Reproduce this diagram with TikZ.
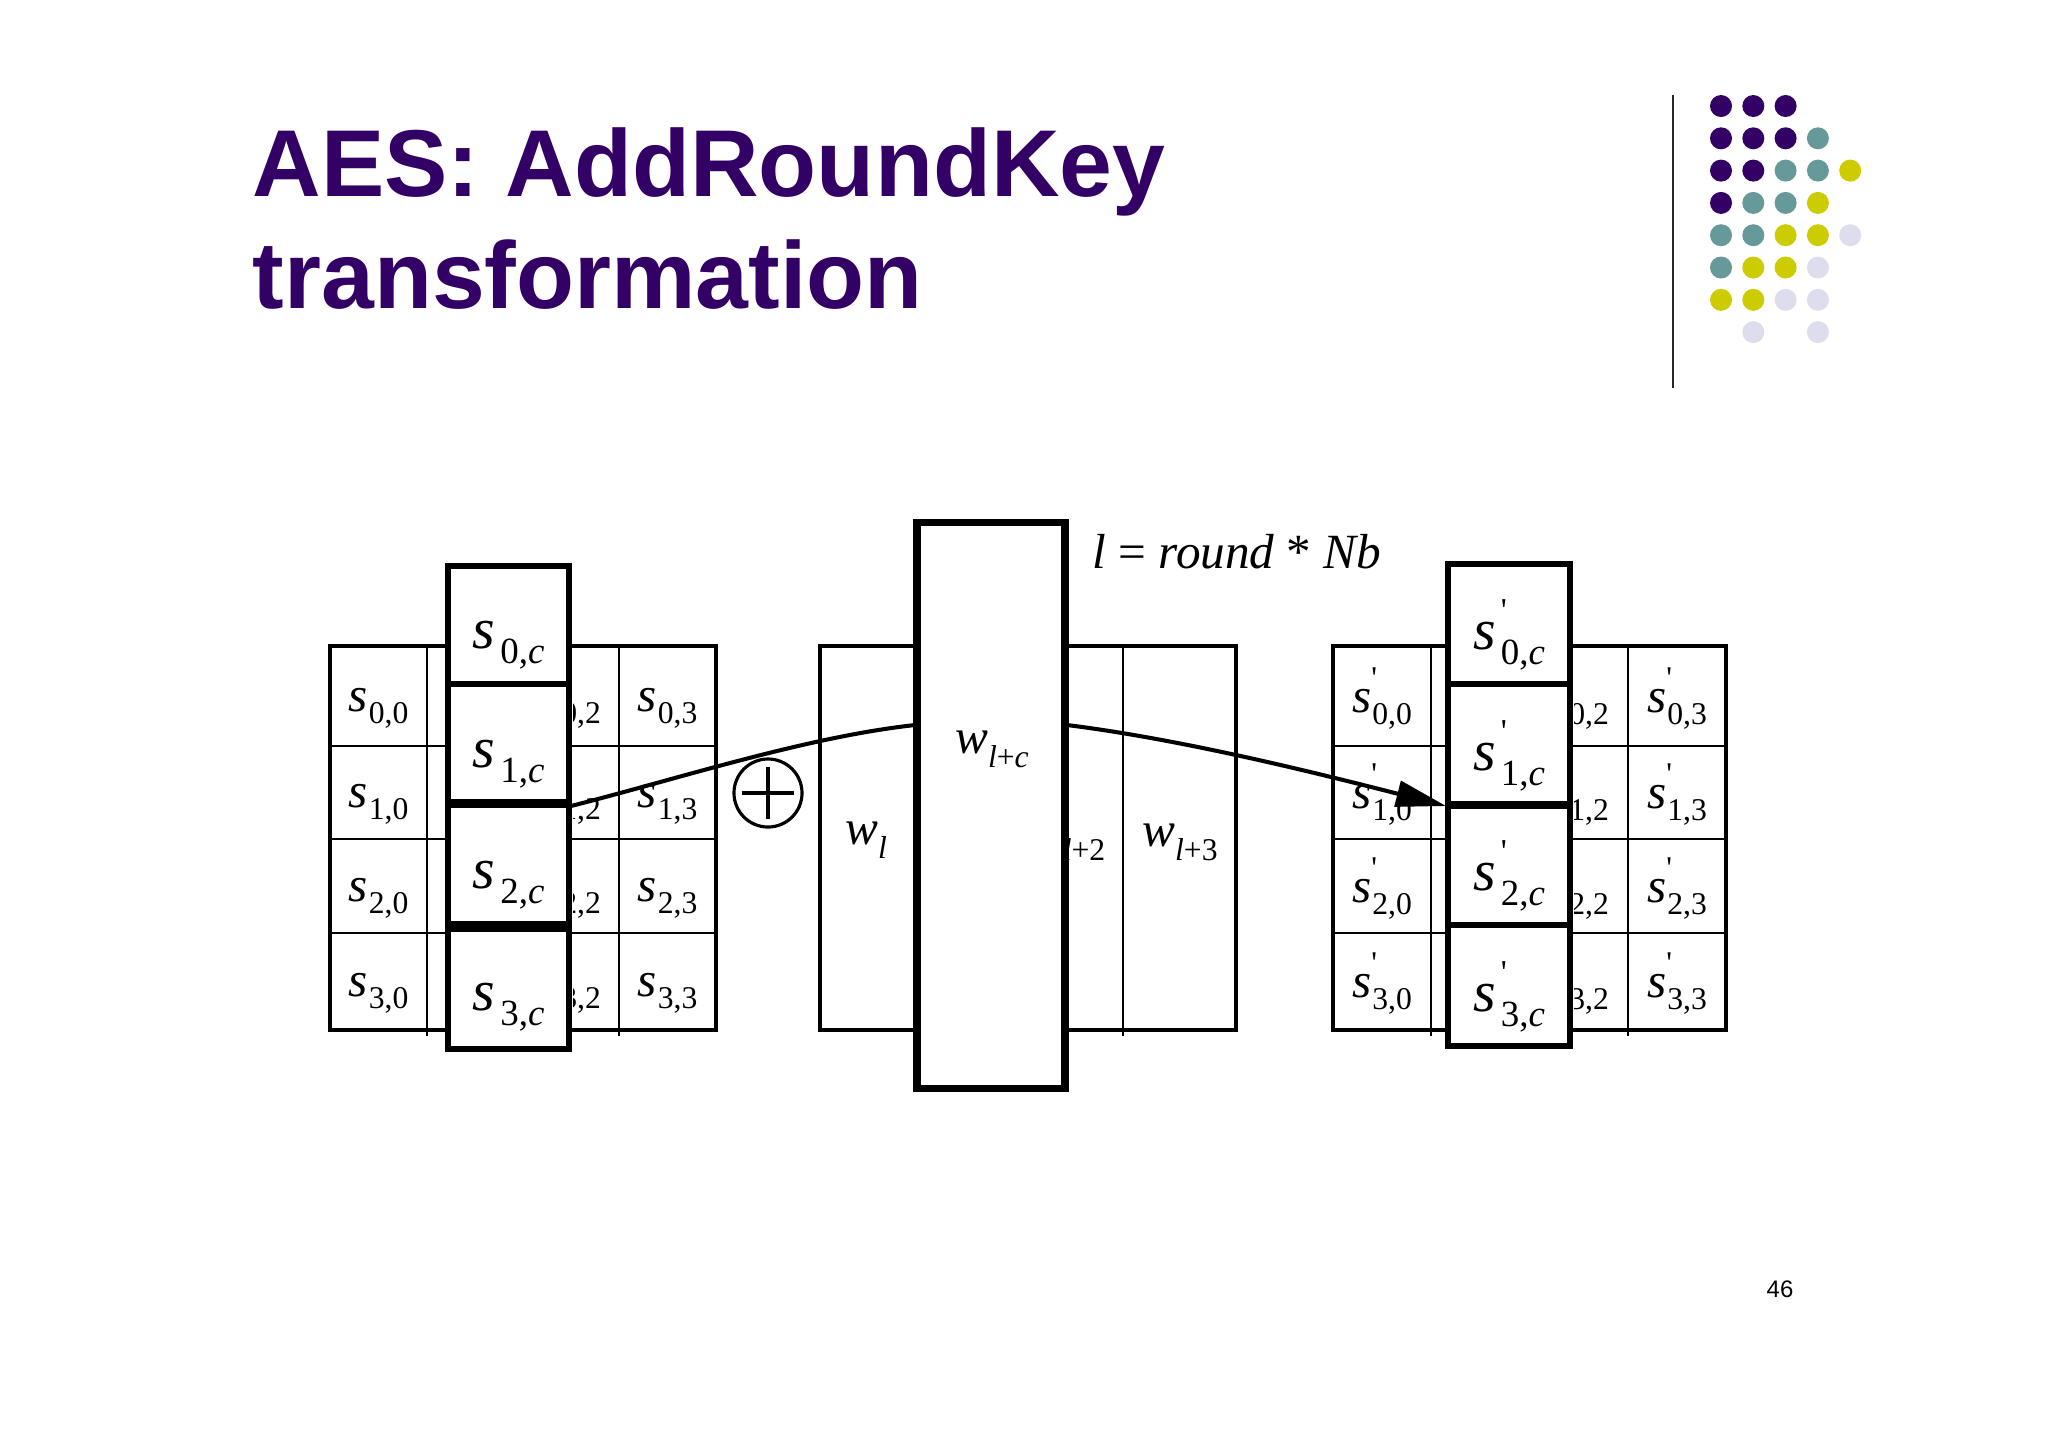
\documentclass[tikz,border=0pt]{standalone}
\usepackage{fontspec}
\setmainfont{Liberation Serif}
\newfontfamily\titlesans{Liberation Sans}
\usetikzlibrary{arrows.meta}
\definecolor{titlepurple}{RGB}{51,0,102}
\definecolor{dotteal}{RGB}{102,153,153}
\definecolor{dotyellow}{RGB}{204,204,0}
\definecolor{dotlav}{RGB}{221,221,238}
% grid cell labels
\newcommand\cellS[1]{{\fontsize{14pt}{14pt}\selectfont\itshape s}\kern0.3pt\raisebox{-3.5pt}{\fontsize{9pt}{9pt}\selectfont #1}}
\newcommand\cellSp[1]{{\fontsize{14pt}{14pt}\selectfont\itshape s}\rlap{\raisebox{6.8pt}{\fontsize{9pt}{9pt}\selectfont\textquotesingle}}\kern0.3pt\raisebox{-3.5pt}{\fontsize{9pt}{9pt}\selectfont #1}}
% highlighted column labels
\newcommand\colS[1]{{\fontsize{16.5pt}{16pt}\selectfont\itshape s}\kern1.5pt\raisebox{-4.5pt}{\fontsize{10.5pt}{10.5pt}\selectfont #1}}
\newcommand\colSp[1]{{\fontsize{16.5pt}{16pt}\selectfont\itshape s}\kern1.5pt\rlap{\raisebox{7.8pt}{\fontsize{9.5pt}{9.5pt}\selectfont\textquotesingle}}\raisebox{-4.5pt}{\fontsize{10.5pt}{10.5pt}\selectfont #1}}
\newcommand\wlab[1]{{\fontsize{14pt}{14pt}\selectfont\itshape w}\raisebox{-4pt}{\fontsize{9pt}{9pt}\selectfont #1}}
\begin{document}
\begin{tikzpicture}[x=0.01cm,y=-0.01cm]
\tikzset{
  gthin/.style={line width=0.8pt},
  gouter/.style={line width=1.4pt},
  colbox/.style={line width=1.7pt},
  lab/.style={anchor=base, inner sep=0pt},
  conn/.style={line width=1.15pt},
}
\useasboundingbox (0,0) rectangle (2048,1447);
\fill[white] (0,0) rectangle (2048,1447);

% title
\node[anchor=base west, inner sep=0pt, text=titlepurple, font=\titlesans\bfseries\fontsize{27pt}{32pt}\selectfont] (title1) at (252,196) {AES: AddRoundKey};
\node[anchor=base west, inner sep=0pt, text=titlepurple, font=\titlesans\bfseries\fontsize{27pt}{32pt}\selectfont] (title2) at (252,308) {transformation};

% decoration
\draw[line width=0.6pt, black!85] (1673,95) -- (1673,388);
\foreach \r/\c/\col in {0/0/titlepurple,0/1/titlepurple,0/2/titlepurple,
  1/0/titlepurple,1/1/titlepurple,1/2/titlepurple,1/3/dotteal,
  2/0/titlepurple,2/1/titlepurple,2/2/dotteal,2/3/dotteal,2/4/dotyellow,
  3/0/titlepurple,3/1/dotteal,3/2/dotteal,3/3/dotyellow,
  4/0/dotteal,4/1/dotteal,4/2/dotyellow,4/3/dotyellow,4/4/dotlav,
  5/0/dotteal,5/1/dotyellow,5/2/dotyellow,5/3/dotlav,
  6/0/dotyellow,6/1/dotyellow,6/2/dotlav,6/3/dotlav,
  7/1/dotlav,7/3/dotlav}
  \fill[\col] ({1721+32.3*\c},{106+32.3*\r}) circle[radius=11];

% page number
\node[font=\titlesans\fontsize{6.8pt}{8pt}\selectfont] (pnum) at (1780,1289) {46};

% ---------------- left state grid
\draw[gouter] (330,1030) -- (330,646) -- (716,646) -- (716,1030) -- cycle;
\foreach \y in {746,839,933} \draw[gthin] (330,\y) -- (716,\y);
\draw[gthin] (427,646) -- (427,1036);
\draw[gthin] (619,646) -- (619,1036);
\foreach \r/\yc in {0/696,1/792.5,2/886,3/981.5} {
  \node[lab] (L\r a) at (378.5,{\yc+15}) {\cellS{\r,0}};
  \node[lab] (L\r d) at (667.5,{\yc+15}) {\cellS{\r,3}};
}
\begin{scope}
  \clip (573,640) rectangle (618,1028);
  \foreach \r/\yc in {0/696,1/792.5,2/886,3/981.5}
    \node[lab] (L\r c) at (571,{\yc+15}) {\cellS{\r,2}};
\end{scope}
% highlighted column (left)
\fill[white] (448,566) rectangle (569,1048.5);
\draw[colbox] (448,566) rectangle (569,1048.5);
\draw[line width=1.7pt] (448,684) -- (569,684);
\draw[line width=2.5pt] (448,803.5) -- (569,803.5);
\draw[line width=3pt] (448,926.5) -- (569,926.5);
\node[lab] (LC0) at (508.5,648) {\colS{0,\textit{c}}};
\node[lab] (LC1) at (508.5,767) {\colS{1,\textit{c}}};
\node[lab] (LC2) at (508.5,888) {\colS{2,\textit{c}}};
\node[lab] (LC3) at (508.5,1010) {\colS{3,\textit{c}}};

% ---------------- round key words
\draw[gouter] (917,646) -- (820,646) -- (820,1030) -- (1236,1030) -- (1236,646) -- (1065,646);
\draw[gthin] (1123,646) -- (1123,1036);
\node[lab] (wl) at (866,844) {\wlab{\textit{l}}};
\node[lab] (wl3) at (1180,846) {\wlab{\textit{l}+3}};
\begin{scope}
  \clip (1069,640) rectangle (1122,1028);
  \node[anchor=base east, inner sep=0pt] (wl2) at (1106,846) {\wlab{\textit{l}+2}};
\end{scope}
\fill[white] (917,522) rectangle (1065,1088);
\draw[line width=2pt] (917,522) rectangle (1065,1088);
\node[lab] (wlc) at (992,753) {\wlab{\textit{l}+\textit{c}}};
\node[lab, font=\fontsize{14pt}{14pt}\selectfont] (eq) at (1237,568) {\textit{l} = \textit{round} * \textit{Nb}};

% ---------------- right state grid
\draw[gouter] (1333,1030) -- (1333,646) -- (1726,646) -- (1726,1030) -- cycle;
\foreach \y in {746,839,933} \draw[gthin] (1333,\y) -- (1726,\y);
\draw[gthin] (1431,646) -- (1431,1036);
\draw[gthin] (1628,646) -- (1628,1036);
\foreach \r/\yc in {0/696,1/792.5,2/886,3/981.5} {
  \node[lab] (R\r a) at (1382,{\yc+16}) {\cellSp{\r,0}};
  \node[lab] (R\r d) at (1677,{\yc+16}) {\cellSp{\r,3}};
}
\begin{scope}
  \clip (1574,640) rectangle (1627,1028);
  \foreach \r/\yc in {0/696,1/792.5,2/886,3/981.5}
    \node[lab] (R\r c) at (1579,{\yc+16}) {\cellSp{\r,2}};
\end{scope}
\fill[white] (1448,564) rectangle (1570,1046);
\draw[colbox] (1448,564) rectangle (1570,1046);
\draw[line width=1.7pt] (1448,684) -- (1570,684);
\draw[line width=2.3pt] (1448,805) -- (1570,805);
\draw[line width=1.7pt] (1448,925) -- (1570,925);
\node[lab] (RC0) at (1509,649) {\colSp{0,\textit{c}}};
\node[lab] (RC1) at (1509,770) {\colSp{1,\textit{c}}};
\node[lab] (RC2) at (1509,890) {\colSp{2,\textit{c}}};
\node[lab] (RC3) at (1509,1011) {\colSp{3,\textit{c}}};

% ---------------- XOR symbol and connectors
\node[circle, draw, line width=0.9pt, minimum size=0.68cm, inner sep=0pt] (xor) at (768,793) {};
\draw[line width=0.9pt] ([xshift=-0.26cm]xor.center) -- ([xshift=0.26cm]xor.center);
\draw[line width=0.9pt] ([yshift=-0.26cm]xor.center) -- ([yshift=0.26cm]xor.center);

\coordinate (p1) at (571,806);
\coordinate (p2) at (915,725);
\coordinate (p3) at (1067,725);
\coordinate (p4) at (1446,806);
\draw[conn] (p1) .. controls (681,778) and (806,737) .. (p2);
\draw[conn, -{Triangle[length=0.5cm, width=0.26cm]}] (p3) .. controls (1187,740) and (1328,776) .. (p4);
\end{tikzpicture}
\end{document}
